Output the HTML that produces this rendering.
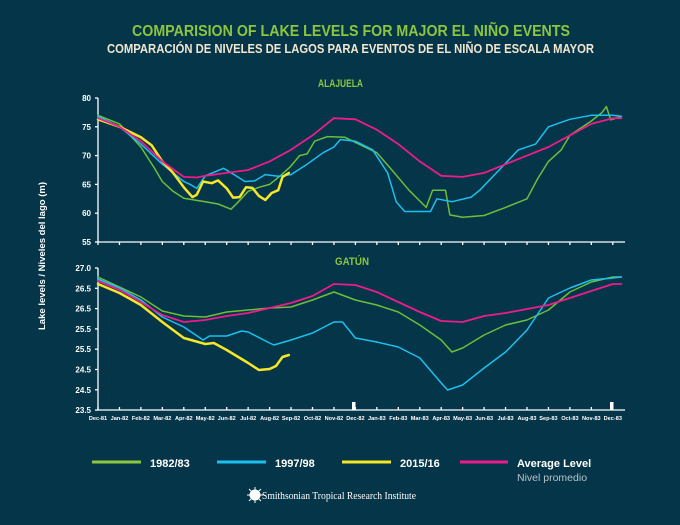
<!DOCTYPE html>
<html><head><meta charset="utf-8"><style>
html,body{margin:0;padding:0;background:#053548;}
svg{display:block}
text{font-family:"Liberation Sans",sans-serif;font-weight:bold}
</style></head><body>
<svg id="s" width="680" height="525" viewBox="0 0 680 525" xmlns="http://www.w3.org/2000/svg">
<rect width="680" height="525" fill="#053548"/>
<text x="132" y="36" font-size="16" fill="#8cc63f" textLength="438" lengthAdjust="spacingAndGlyphs">COMPARISION OF LAKE LEVELS FOR MAJOR EL NIÑO EVENTS</text>
<text x="107" y="53" font-size="12.5" fill="#f2e6d0" textLength="487" lengthAdjust="spacingAndGlyphs">COMPARACIÓN DE NIVELES DE LAGOS PARA EVENTOS DE EL NIÑO DE ESCALA MAYOR</text>
<text x="318" y="87" font-size="11" fill="#8cc63f" textLength="45" lengthAdjust="spacingAndGlyphs">ALAJUELA</text>
<text x="335" y="265" font-size="11" fill="#8cc63f" textLength="34" lengthAdjust="spacingAndGlyphs">GATÚN</text>
<text transform="translate(45,330) rotate(-90)" font-size="9" fill="#ffffff" textLength="148" lengthAdjust="spacingAndGlyphs">Lake levels / Niveles del lago (m)</text>
<g id="axes" stroke="#ffffff" stroke-width="1.3" fill="none"></g>
<g id="labels" fill="#ffffff"></g>
<g id="series" fill="none" stroke-linejoin="round" stroke-linecap="round"></g>
<g stroke-width="3">
<line x1="92" y1="462" x2="141" y2="462" stroke="#8cc63f"/>
<line x1="217" y1="462" x2="266" y2="462" stroke="#1cc0ef"/>
<line x1="342" y1="462" x2="391" y2="462" stroke="#f5e62a"/>
<line x1="460" y1="462" x2="508" y2="462" stroke="#ec1c8c"/>
</g>
<text x="150" y="467" font-size="11" fill="#fff">1982/83</text>
<text x="275" y="467" font-size="11" fill="#fff">1997/98</text>
<text x="400" y="467" font-size="11" fill="#fff">2015/16</text>
<text x="517" y="467" font-size="11" fill="#fff">Average Level</text>
<text x="517" y="481" font-size="10.5" fill="#b8c4c8" style="font-weight:normal">Nivel promedio</text>
<g fill="#fff"><circle cx="255" cy="495" r="5.5"/><g stroke="#fff" stroke-width="1">
<line x1="247" y1="495" x2="263" y2="495"/><line x1="255" y1="487" x2="255" y2="503"/>
<line x1="249" y1="489" x2="261" y2="501"/><line x1="261" y1="489" x2="249" y2="501"/></g></g>
<text x="262" y="499" font-size="11" fill="#fff" style="font-family:'Liberation Serif',serif;font-weight:normal" textLength="154" lengthAdjust="spacingAndGlyphs">Smithsonian Tropical Research Institute</text>
</svg>
<script>
const NS="http://www.w3.org/2000/svg";
const X0=98,MW=21.45;
const mx=m=>X0+m*MW;
function el(p,t,a,txt){const e=document.createElementNS(NS,t);for(const k in a)e.setAttribute(k,a[k]);if(txt)e.textContent=txt;document.getElementById(p).appendChild(e);return e;}
el("axes","line",{x1:98,y1:98,x2:98,y2:242});
el("axes","line",{x1:98,y1:242,x2:625,y2:242});
const ay=v=>98+(80-v)*5.76;
[80,75,70,65,60,55].forEach(v=>{el("axes","line",{x1:95,y1:ay(v),x2:98,y2:ay(v)});el("labels","text",{x:91,y:ay(v)+3,"font-size":8,"text-anchor":"end"},String(v));});
for(let m=0;m<=24;m++)el("axes","line",{x1:mx(m),y1:242,x2:mx(m),y2:245});
el("axes","line",{x1:98,y1:268,x2:98,y2:410});
el("axes","line",{x1:98,y1:410,x2:625,y2:410});
["27.0","26.5","26.5","25.5","25.5","24.5","24.5","23.5"].forEach((t,i)=>{const y=268+i*20.3;el("axes","line",{x1:95,y1:y,x2:98,y2:y});el("labels","text",{x:91,y:y+3,"font-size":8,"text-anchor":"end"},t);});
const mon=["Dec","Jan","Feb","Mar","Apr","May","Jun","Jul","Aug","Sep","Oct","Nov"];
for(let m=0;m<=24;m++){el("axes","line",{x1:mx(m),y1:407,x2:mx(m),y2:410});
const yr=m==0?81:(m<=12?82:83);el("labels","text",{x:mx(m),y:420,"font-size":5.6,"text-anchor":"middle"},mon[m%12]+"-"+yr);}
el("labels","rect",{x:352,y:402,width:3.5,height:8});
el("labels","rect",{x:610,y:402,width:3.5,height:8});
function line(pts,col,w,fy){const d=pts.map((p,i)=>(i?"L":"M")+mx(p[0]).toFixed(1)+" "+fy(p[1]).toFixed(1)).join(" ");el("series","path",{d:d,stroke:col,"stroke-width":w});}
const G="#6cbf3a",C="#1cc0ef",Y="#f5e62a",P="#ec1c8c",id=v=>v;
line([[0,77],[1,75.5],[2,71.5],[2.6,68],[3,65.5],[3.5,63.8],[4,62.6],[5,62],[5.6,61.6],[6.2,60.7],[6.5,61.8],[7,63.8],[7.5,64.5],[8,65],[8.5,66.5],[8.95,68],[9.4,70],[9.75,70.3],[10.1,72.5],[10.7,73.3],[11.5,73.2],[12,72.3],[13,70.5],[13.7,67.5],[14.5,64],[15.3,61],[15.6,64],[16.2,64],[16.4,59.7],[17,59.3],[18,59.6],[19,61],[20,62.5],[20.5,66],[21,69],[21.6,71],[22,73.5],[23,76],[23.5,77.5],[23.7,78.5],[23.9,76.2],[24.4,76.8]],G,1.5,ay);
line([[0,76.8],[1,75],[2,72],[3,68.5],[4,65.5],[4.3,65],[4.6,64.3],[5,66.5],[5.85,67.8],[6.3,66.8],[6.85,65.5],[7.3,65.6],[7.8,66.7],[8.4,66.4],[9,66.7],[9.75,68.5],[10.5,70.5],[11,71.5],[11.3,72.8],[12,72.5],[12.8,71],[13.5,67],[13.9,62],[14.3,60.3],[15.5,60.3],[15.8,62.5],[16.5,62],[17.4,62.8],[17.8,64],[18.7,67.5],[19.6,71],[20.4,72],[21,75],[22,76.3],[23,77],[24,77],[24.4,76.8]],C,1.5,ay);
line([[0,76.3],[1,75],[2,73.2],[2.5,71.8],[3,69],[3.5,67],[4,64.5],[4.4,62.8],[4.6,63.2],[4.9,65.5],[5.3,65.2],[5.6,65.7],[6,64.3],[6.3,62.7],[6.6,62.8],[6.9,64.5],[7.2,64.4],[7.5,63],[7.8,62.3],[8.1,63.5],[8.4,64],[8.6,66.3],[8.9,67]],Y,2.5,ay);
line([[0,76.5],[1,75],[2,72.5],[3,69],[4,66.3],[4.6,66.2],[5,66.5],[6,67],[7,67.5],[8,69],[9,71],[10,73.5],[11,76.5],[12,76.3],[13,74.5],[14,72],[15,69],[16,66.5],[17,66.3],[18,67],[19,68.5],[20,70],[21,71.5],[22,73.5],[23,75.5],[24,76.5],[24.4,76.5]],P,1.8,ay);
line([[0,277],[1,287],[2,297],[3,311],[4,316],[5,317],[6,312],[7,310],[8,308],[9,307],[10,300],[11,292],[12,300],[13,305],[14,312],[15,325],[16,340],[16.5,352],[17,348],[18,335],[19,325],[20,320],[21,310],[22,292],[23,282],[24,277],[24.4,277]],G,1.5,id);
line([[0,279],[1,288],[2,300],[3,317],[4,327],[4.9,340],[5.2,336],[6,336],[6.7,331],[7,332],[8,343],[8.2,345],[9,340],[10,333],[11,322],[11.4,322],[12,338],[13,342],[14,347],[15,358],[16,383],[16.3,390],[17,385],[18,368],[19,352],[20,330],[21,298],[22,288],[23,280],[24,278],[24.4,277]],C,1.5,id);
line([[0,284],[1,293],[2,305],[3,322],[4,338],[5,344],[5.4,343],[6,350],[7,363],[7.5,370],[8,369],[8.3,366],[8.6,357],[8.9,355]],Y,2.5,id);
line([[0,281],[1,290],[2,302],[3,315],[4,322],[5,320],[6,316],[7,313],[8,308],[9,303],[10,296],[11,284],[12,285],[13,292],[14,302],[15,312],[16,321],[17,322],[18,316],[19,313],[20,309],[21,305],[22,298],[23,291],[24,284],[24.4,284]],P,1.8,id);
</script>
</body></html>
